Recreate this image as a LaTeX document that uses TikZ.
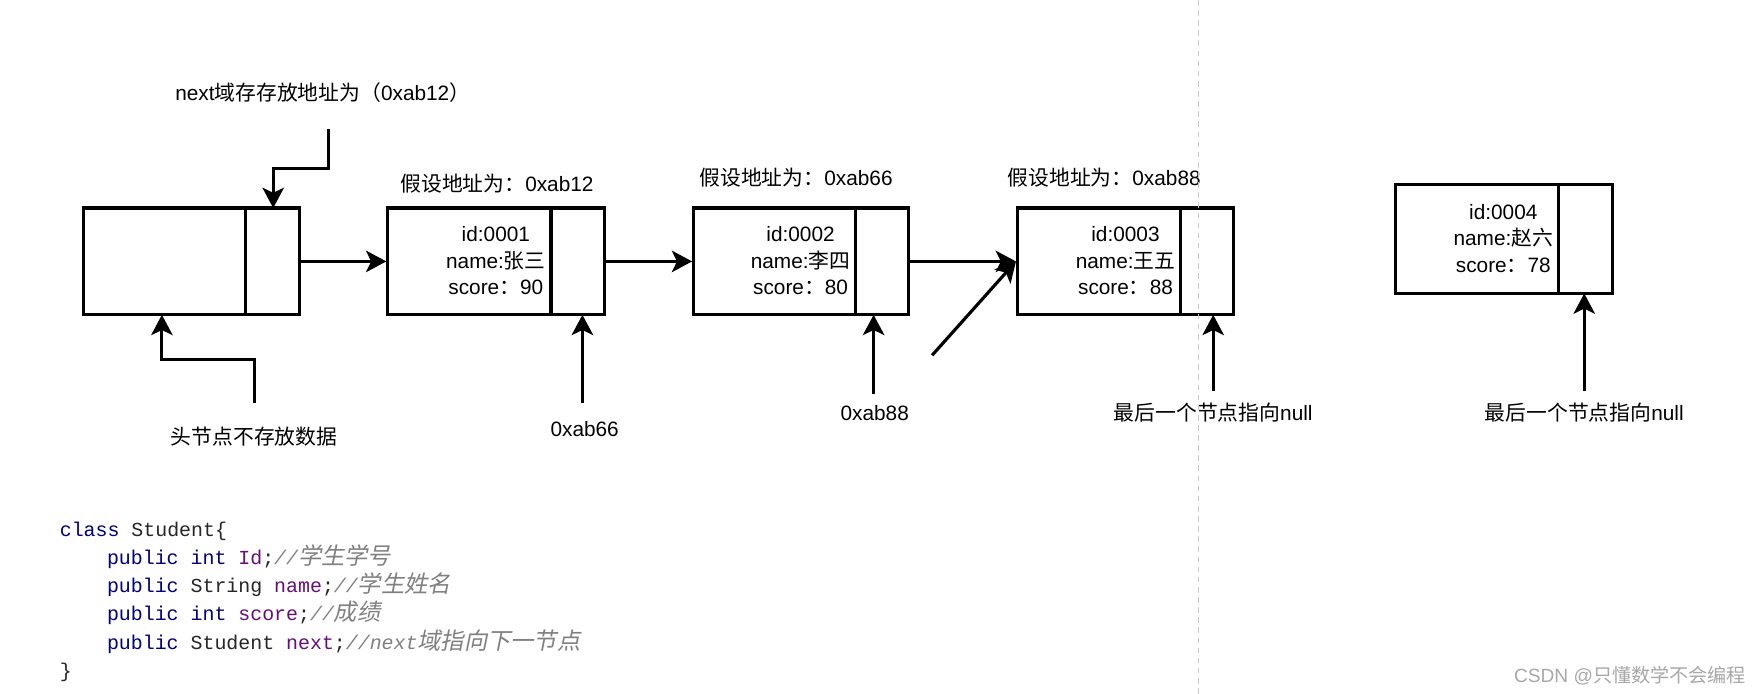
\documentclass[tikz,border=0pt]{standalone}
\usepackage{fontspec}
\setmainfont{Liberation Sans}
\newfontfamily\zhfont{Noto Sans CJK SC}
\newfontfamily\zhslant[FakeSlant=0.2, Scale=1.17]{Noto Sans CJK SC}
\newfontfamily\codefont{Liberation Mono}
\usetikzlibrary{arrows.meta}
\newcommand\zh[1]{{\zhfont #1}}
\definecolor{kwc}{HTML}{000080}
\definecolor{fdc}{HTML}{660E7A}
\definecolor{cmc}{HTML}{808080}
\definecolor{clc}{HTML}{262626}
\definecolor{dashc}{HTML}{C8C8C8}
\definecolor{wmc}{HTML}{A8A8A8}
\newcommand\kw[1]{\textcolor{kwc}{#1}}
\newcommand\fd[1]{\textcolor{fdc}{#1}}
\newcommand\cm[1]{\textcolor{cmc}{\itshape #1}}
\newcommand\zcm[1]{{\zhslant #1}}
\begin{document}
\begin{tikzpicture}[x=1pt,y=-1pt,
  box/.style={draw, line width=2.8pt, inner sep=0pt, minimum height=95pt},
  divline/.style={line width=2.8pt},
  arr/.style={line width=2.8pt, -{Stealth[length=18pt,width=19pt,inset=4.5pt]}},
  lbl/.style={font=\fontsize{18.5}{22}\selectfont, inner sep=0pt},
  datatxt/.style={font=\fontsize{18.5}{23.5}\selectfont, align=center, inner sep=0pt},
  code/.style={font=\codefont\fontsize{17.7}{20}\selectfont, anchor=base west, inner sep=0pt, text=clc}]
\useasboundingbox (0,0) rectangle (1568,617);
\fill[white] (0,0) rectangle (1568,617);

% boxes
\node[box, minimum width=192pt] (h) at (170,232.5) {};
\draw[divline] (218,185) -- (218,280);
\node[box, minimum width=193pt] (b1) at (441.5,232.5) {};
\draw[divline] (490,185) -- (490,280);
\node[box, minimum width=191pt] (b2) at (712.5,232.5) {};
\draw[divline] (761,185) -- (761,280);
\node[box, minimum width=192pt] (b3) at (1001,232.5) {};
\draw[divline] (1050,185) -- (1050,280);
\node[box, minimum width=193pt, minimum height=97pt] (b4) at (1337.5,212.5) {};
\draw[divline] (1386,164) -- (1386,261);

% texts inside boxes
\node[datatxt] (t1) at (441,232) {id:0001\\name:\zh{张三}\\score\zh{：}90};
\node[datatxt] (t2) at (712,232) {id:0002\\name:\zh{李四}\\score\zh{：}80};
\node[datatxt] (t3) at (1001,232) {id:0003\\name:\zh{王五}\\score\zh{：}88};
\node[datatxt] (t4) at (1337,212) {id:0004\\name:\zh{赵六}\\score\zh{：}78};

% labels
\node[lbl] (ltop) at (287,82) {next\zh{域存存放地址为（}0xab12\zh{）}};
\node[lbl] (lhead) at (226,388) {\zh{头节点不存放数据}};
\node[lbl] (la1) at (442,163) {\zh{假设地址为：}0xab12};
\node[lbl] (la2) at (708,158) {\zh{假设地址为：}0xab66};
\node[lbl] (la3) at (982,158) {\zh{假设地址为：}0xab88};
\node[lbl] (l66) at (520,382) {0xab66};
\node[lbl] (l88) at (778,367) {0xab88};
\node[lbl] (lnull3) at (1079,367) {\zh{最后一个节点指向}null};
\node[lbl] (lnull4) at (1409,367) {\zh{最后一个节点指向}null};

% connectors
\coordinate (tA) at (292,115);
\coordinate (hnx) at (243,185);
\draw[arr] (tA) -- (292,150) -| (hnx);
\coordinate (bA) at (226,358);
\coordinate (hdt) at (144,280);
\draw[arr] (bA) -- (226,320) -| (hdt);
\draw[arr] (h.east) -- (b1.west);
\draw[arr] (b1.east) -- (b2.west);
\draw[arr] (b2.east) -- (b3.west);
\coordinate (d0) at (829,316);
\draw[arr] (d0) -- (b3.west);
\coordinate (p1a) at (518,358); \coordinate (p1b) at (518,280);
\draw[arr] (p1a) -- (p1b);
\coordinate (p2a) at (777,350); \coordinate (p2b) at (777,280);
\draw[arr] (p2a) -- (p2b);
\coordinate (p3a) at (1079,348); \coordinate (p3b) at (1079,280);
\draw[arr] (p3a) -- (p3b);
\coordinate (p4a) at (1409,348); \coordinate (p4b) at (1409,261);
\draw[arr] (p4a) -- (p4b);

% code
\node[code] (c1) at (53,477) {\kw{class} Student\{};
\node[code] (c2) at (95,502) {\kw{public} \kw{int} \fd{Id};\cm{//\zcm{学生学号}}};
\node[code] (c3) at (95,527) {\kw{public} String \fd{name};\cm{//\zcm{学生姓名}}};
\node[code] (c4) at (95,552) {\kw{public} \kw{int} \fd{score};\cm{//\zcm{成绩}}};
\node[code] (c5) at (95,578) {\kw{public} Student \fd{next};\cm{//next\zcm{域指向下一节点}}};
\node[code] (c6) at (53,603) {\}};

% separator
\draw[dashc, line width=1.3pt, dash pattern=on 5pt off 4pt] (1066,0) -- (1066,617);

% watermark
\node[font=\fontsize{17}{20}\selectfont, text=wmc, anchor=east, inner sep=0pt] (wm) at (1553,601) {CSDN @\zh{只懂数学不会编程}};
\end{tikzpicture}
\end{document}
